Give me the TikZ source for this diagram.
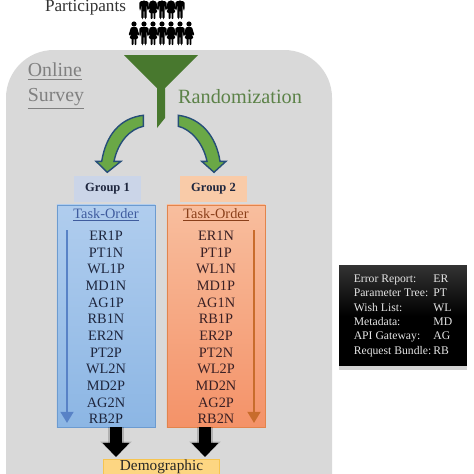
\documentclass[tikz,border=0pt]{standalone}
\usepackage{fontspec}
\setmainfont{Liberation Serif}
\usetikzlibrary{arrows.meta, positioning, calc, shadows}
\definecolor{panelgray}{RGB}{217, 217, 217}
\definecolor{funnelgreen}{RGB}{72, 120, 46}
\definecolor{arrowgreen}{RGB}{106, 168, 70}
\definecolor{arrowblue}{RGB}{38, 78, 120}
\definecolor{randgreen}{RGB}{92, 130, 72}
\definecolor{onegroup}{RGB}{203, 213, 232}
\definecolor{twogroup}{RGB}{249, 203, 168}
\definecolor{demogold}{RGB}{253, 214, 130}
\definecolor{demoedge}{RGB}{246, 196, 80}
\definecolor{inknavy}{RGB}{30, 38, 62}
\definecolor{inkbrown}{RGB}{58, 32, 36}
\definecolor{oneedge}{RGB}{108, 155, 208}
\definecolor{onetop}{RGB}{176, 205, 238}
\definecolor{onebottom}{RGB}{140, 182, 228}
\definecolor{oneorder}{RGB}{88, 130, 198}
\definecolor{onetitle}{RGB}{63, 92, 158}
\definecolor{twoedge}{RGB}{226, 132, 76}
\definecolor{twotop}{RGB}{248, 190, 158}
\definecolor{twobottom}{RGB}{244, 146, 104}
\definecolor{twoorder}{RGB}{200, 108, 44}
\definecolor{twotitle}{RGB}{138, 63, 26}

\begin{document}
\begin{tikzpicture}[
  x=0.025cm, y=-0.025cm,
  groupbox/.style={minimum width=47.6pt, minimum height=18.5pt, inner sep=0pt, font=\fontsize{8.9}{10}\selectfont\bfseries, text=inknavy},
  taskbox/.style={minimum width=69.7pt, minimum height=157.9pt, inner sep=0pt, align=center, line width=0.6pt, font=\fontsize{10.2}{11.85}\selectfont},
  orderarrow/.style={line width=2pt, -{Triangle[length=8pt, width=9pt]}},
  bigarrow/.style={line width=8.5pt, black, -{Triangle[length=10pt, width=18.5pt]}},
  softarrow/.style={line width=11pt, black, opacity=0.18, -{Triangle[length=11pt, width=22pt]}},
  bendarrow/.style={draw=arrowblue, fill=arrowgreen, line width=1pt, line join=miter},
  person/.pic={
    \fill (0,-9) circle (2.6);
    \fill[rounded corners=1pt] (-4.6,-5.8) -- (4.6,-5.8) -- (4.6,3) -- (3.2,3) -- (3.2,-2) -- (2.6,-2) -- (2.6,12) -- (0.4,12) -- (0.4,3)
      -- (-0.4,3) -- (-0.4,12) -- (-2.6,12) -- (-2.6,-2) -- (-3.2,-2) -- (-3.2,3) -- (-4.6,3) -- cycle;
  },
  persondress/.pic={
    \fill (0,-9) circle (2.6);
    \fill[rounded corners=0.6pt] (-3,-5.8) -- (3,-5.8) -- (5.4,2) -- (4,2.6) -- (2.4,-1) -- (4.4,5.5) -- (2.4,5.5) -- (2.4,12) -- (0.5,12) -- (0.5,5.5)
      -- (-0.5,5.5) -- (-0.5,12) -- (-2.4,12) -- (-2.4,5.5) -- (-4.4,5.5) -- (-2.4,-1) -- (-4,2.6) -- (-5.4,2) -- cycle;
  }
]
  \useasboundingbox (0,0) rectangle (474,474);
  \clip (0,0) rectangle (474,474);

  \fill[panelgray, rounded corners=34pt] (6,50) rectangle (332,540);

  % participants
  \node[font=\fontsize{12.2}{14}\selectfont, text=black!80] (participants) at (85.5,8) {Participants};
  \foreach \x in {144,162,180} \pic at (\x,7) {person};
  \foreach \x in {153,171} \pic at (\x,7) {persondress};
  \foreach \x in {144,162,180} \pic at (\x,33) {person};
  \foreach \x in {134,153,171,189} \pic at (\x,33) {persondress};

  % survey label and funnel
  \node[font=\fontsize{14.1}{17}\selectfont, text=black!50, align=left] (survey) at (56,86) {\underline{Online}\\[1pt]\underline{Survey}};
  \fill[funnelgreen] (124,55) -- (198,55) -- (165,88) -- (165,118) -- (157,128) -- (157,88) -- cycle;
  \node[font=\fontsize{14.4}{17}\selectfont, text=randgreen] (randomization) at (240,97) {Randomization};

  % split
  \draw[bendarrow] (143.3,115.3) .. controls (120,118) and (106,135) .. (101.7,161.3) -- (96,161.3) -- (107.3,172.3) -- (121,161.3) -- (114,161.3)
    .. controls (118,142) and (130,129) .. (143.3,126.3) -- cycle;
  \draw[bendarrow] (178.3,115.3) .. controls (200,118) and (216,135) .. (220,161.3) -- (226,161.3) -- (214,172.3) -- (201.7,161.3) -- (207,161.3)
    .. controls (203,142) and (190,129) .. (178.3,126.3) -- cycle;

  % groups
  \node[groupbox, fill=onegroup] (groupone) at (107.5,189) {Group 1};
  \node[groupbox, fill=twogroup] (grouptwo) at (213.5,189) {Group 2};

  \node[taskbox, text=inknavy, draw=oneedge, top color=onetop, bottom color=onebottom] (taskone) at (106,316) {
    \textcolor{onetitle}{\underline{Task-Order}}\\[4pt]
    ER1P\\PT1N\\WL1P\\MD1N\\AG1P\\RB1N\\ER2N\\PT2P\\WL2N\\MD2P\\AG2N\\RB2P
  };
  \node[taskbox, text=inkbrown, draw=twoedge, top color=twotop, bottom color=twobottom] (tasktwo) at (216,316) {
    \textcolor{twotitle}{\underline{Task-Order}}\\[4pt]
    ER1N\\PT1P\\WL1N\\MD1P\\AG1N\\RB1P\\ER2P\\PT2N\\WL2P\\MD2N\\AG2P\\RB2N
  };
  \draw[orderarrow, oneorder] (67,230) -- (67,423);
  \draw[orderarrow, twoorder] (254,230) -- (254,423);

  % demographic
  \node[anchor=north, minimum width=83pt, inner sep=0.5pt, text depth=22pt, draw=demoedge, line width=0.6pt, fill=demogold, font=\fontsize{10.85}{13}\selectfont, text=black!85] (demog) at (161.5,459) {Demographic};
  \coordinate (inone) at (116,457);
  \coordinate (intwo) at (205,457);
  \draw[softarrow] (taskone.south -| inone) -- (inone);
  \draw[softarrow] (tasktwo.south -| intwo) -- (intwo);
  \draw[bigarrow] (taskone.south -| inone) -- (inone);
  \draw[bigarrow] (tasktwo.south -| intwo) -- (intwo);

  % abbreviations
  \node[minimum width=91pt, minimum height=71.8pt, inner sep=0pt, top color=black!80, bottom color=black, middle color=black, drop shadow={opacity=0.35, shadow xshift=0pt, shadow yshift=-2.5pt}, text=black!10, font=\fontsize{8.3}{10.24}\selectfont] (legend) at (403,315.5) {
    \begin{tabular}{@{}l@{\hspace{1.5pt}}l@{}}
      Error Report: & ER\\
      Parameter Tree: & PT\\
      Wish List: & WL\\
      Metadata: & MD\\
      API Gateway: & AG\\
      Request Bundle: & RB
    \end{tabular}
  };
\end{tikzpicture}
\end{document}
